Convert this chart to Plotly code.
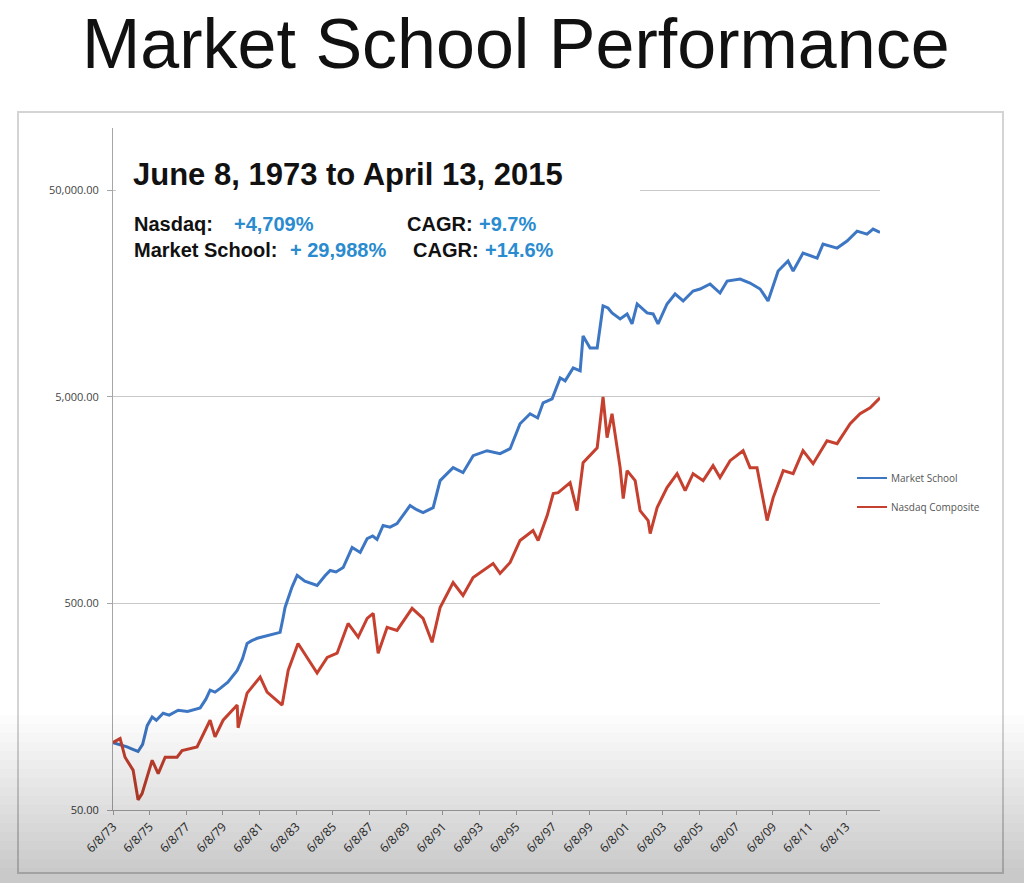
import plotly.graph_objects as go
import pandas as pd
import math

# ---------------- data ----------------
ms_years = [1973.44, 1973.80, 1974.20, 1974.55, 1974.80, 1975.05, 1975.30, 1975.57, 1975.80, 1976.17,
            1976.50, 1976.99, 1977.50, 1978.19, 1978.50, 1978.73, 1979.00, 1979.28, 1979.70, 1980.21,
            1980.50, 1980.75, 1981.00, 1981.30, 1981.90, 1982.55, 1982.70, 1982.82, 1983.20, 1983.48,
            1983.90, 1984.57, 1985.00, 1985.28, 1985.60, 1985.99, 1986.48, 1986.92, 1987.30, 1987.60,
            1987.84, 1988.17, 1988.55, 1988.93, 1989.64, 1990.00, 1990.35, 1990.90, 1991.28, 1991.99,
            1992.53, 1993.08, 1993.84, 1994.55, 1995.10, 1995.64, 1996.19, 1996.60, 1996.90, 1997.39,
            1997.83, 1998.10, 1998.54, 1998.92, 1999.08, 1999.46, 1999.85, 2000.17, 2000.44, 2000.66,
            2001.10, 2001.48, 2001.75, 2002.03, 2002.57, 2002.90, 2003.17, 2003.66, 2004.10, 2004.54,
            2005.08, 2005.46, 2006.01, 2006.55, 2006.94, 2007.65, 2008.19, 2008.74, 2009.17, 2009.72,
            2010.26, 2010.54, 2011.08, 2011.85, 2012.17, 2012.94, 2013.48, 2014.03, 2014.57, 2014.90,
            2015.28]
ms_values = [106, 104, 101, 98, 96, 104, 128, 141, 136, 147,
             144, 152, 150, 156, 172, 190, 186, 194, 208, 237,
             270, 320, 330, 339, 350, 362, 420, 478, 600, 683,
             640, 611, 680, 722, 710, 746, 932, 882, 1030, 1060,
             1020, 1191, 1170, 1217, 1487, 1420, 1376, 1454, 1964, 2270,
             2147, 2594, 2742, 2652, 2804, 3702, 4139, 3950, 4677, 4890,
             6176, 5974, 6904, 6678, 9855, 8623, 8623, 13760, 13460, 12730,
             11910, 12590, 11260, 14070, 12730, 12590, 11260, 14070, 15730, 14550,
             16260, 16620, 17570, 15900, 18170, 18580, 17770, 16620, 14550, 20310,
             22700, 20310, 24810, 23470, 27430, 26230, 28350, 31690, 30650, 32400,
             31200]

nq_years = [1973.44, 1973.82, 1974.09, 1974.53, 1974.80, 1975.02, 1975.57, 1975.90, 1976.28, 1976.93,
            1977.20, 1978.02, 1978.73, 1979.00, 1979.44, 1980.21, 1980.26, 1980.75, 1981.46, 1981.84,
            1982.66, 1982.99, 1983.53, 1984.02, 1984.57, 1985.12, 1985.66, 1986.26, 1986.81, 1987.30,
            1987.63, 1987.90, 1988.39, 1988.93, 1989.75, 1990.35, 1990.84, 1991.28, 1991.99, 1992.53,
            1993.08, 1994.17, 1994.55, 1995.10, 1995.64, 1996.35, 1996.63, 1997.12, 1997.45, 1997.72,
            1998.37, 1998.75, 1999.08, 1999.85, 2000.17, 2000.39, 2000.66, 2001.10, 2001.27, 2001.48,
            2001.92, 2002.19, 2002.63, 2002.74, 2003.12, 2003.66, 2004.21, 2004.65, 2005.08, 2005.63,
            2006.17, 2006.55, 2007.10, 2007.81, 2008.19, 2008.57, 2008.90, 2009.12, 2009.45, 2010.00,
            2010.54, 2011.08, 2011.63, 2012.39, 2012.94, 2013.65, 2014.19, 2014.74, 2015.28]
nq_values = [106, 111, 90, 78, 56, 60, 87, 75, 90, 90,
             97, 101, 136, 113, 136, 161, 125, 184, 220, 186,
             161, 237, 320, 274, 230, 274, 287, 400, 343, 423,
             447, 287, 383, 370, 473, 423, 324, 478, 631, 546,
             668, 780, 698, 789, 1008, 1126, 1008, 1331, 1700, 1719,
             1920, 1407, 2399, 2835, 5000, 3169, 4139, 2270, 1608, 2195,
             1964, 1407, 1259, 1089, 1454, 1817, 2123, 1757, 2123, 1964,
             2320, 2031, 2454, 2742, 2270, 2270, 1573, 1259, 1626, 2195,
             2123, 2742, 2373, 3065, 2965, 3702, 4139, 4424, 4945]

tick_years = list(range(1973, 2014, 2))
tick_labels = [f"6/8/{y % 100:02d}" for y in tick_years]
y_ticks = [50, 500, 5000, 50000]
y_tick_labels = ["50.00", "500.00", "5,000.00", "50,000.00"]

series_names = ["Market School", "Nasdaq Composite"]
start_date, end_date = "1973-06-08", "2015-04-13"


def to_date(y):
    year = int(math.floor(y))
    frac = y - year
    return pd.Timestamp(year=year, month=1, day=1) + pd.Timedelta(days=frac * 365.25)


ms_dates = [to_date(y) for y in ms_years]
nq_dates = [to_date(y) for y in nq_years]
ms_dates[0] = nq_dates[0] = pd.Timestamp(start_date)
ms_dates[-1] = nq_dates[-1] = pd.Timestamp(end_date)
tick_dates = [pd.Timestamp(year=y, month=6, day=8) for y in tick_years]

BLUE = "#3d76c3"
RED = "#c6402f"

fig = go.Figure()
fig.add_trace(go.Scatter(x=ms_dates, y=ms_values, mode="lines", name=series_names[0],
                         line=dict(color=BLUE, width=3)))
fig.add_trace(go.Scatter(x=nq_dates, y=nq_values, mode="lines", name=series_names[1],
                         line=dict(color=RED, width=3)))

# pixel geometry of plot area
L, R, T, B = 113, 880, 128, 810
W, H = 1024, 883


def px(x):
    return (x - L) / (R - L)


def py(y):
    return (B - y) / (B - T)


shapes = []
# outer chart box
shapes.append(dict(type="rect", xref="paper", yref="paper", x0=px(18), x1=px(1003), y0=py(873), y1=py(112),
                   line=dict(color="#d4d4d4", width=2), fillcolor="rgba(0,0,0,0)", layer="below"))
# white box behind the text block (hides gridline)
shapes.append(dict(type="rect", xref="paper", yref="paper", x0=px(116), x1=px(640), y0=py(268), y1=py(145),
                   line=dict(width=0), fillcolor="white", layer="above"))
# manual legend lines
shapes.append(dict(type="line", xref="paper", yref="paper", x0=px(857), x1=px(887), y0=py(478), y1=py(478),
                   line=dict(color=BLUE, width=2)))
shapes.append(dict(type="line", xref="paper", yref="paper", x0=px(857), x1=px(887), y0=py(507), y1=py(507),
                   line=dict(color=RED, width=2)))
# bottom shading (video frame gradient)
for i in range(18):
    y0 = 715 + i * 9
    shapes.append(dict(type="rect", xref="paper", yref="paper", x0=px(0), x1=px(W), y0=py(H), y1=py(y0),
                       line=dict(width=0), fillcolor="rgba(0,0,0,0.013)", layer="above"))

annotations = []
annotations.append(dict(text="Market School Performance", xref="paper", yref="paper", x=px(516), y=py(44),
                        xanchor="center", yanchor="middle", showarrow=False,
                        font=dict(family="Liberation Sans, Arial", size=70, color="#111111")))
annotations.append(dict(text="<b>June 8, 1973 to April 13, 2015</b>", xref="paper", yref="paper",
                        x=px(131), y=py(174), xanchor="left", yanchor="middle", showarrow=False,
                        font=dict(family="Liberation Sans, Arial", size=31, color="#111111")))

TXT = dict(family="Liberation Sans, Arial", size=20)
NUM_COLOR = "#2a8bcf"
info = [
    ("<b>Nasdaq:</b>", 132, 224, "#111111"),
    ("<b>+4,709%</b>", 232, 224, NUM_COLOR),
    ("<b>CAGR:</b>", 405, 224, "#111111"),
    ("<b>+9.7%</b>", 477, 224, NUM_COLOR),
    ("<b>Market School:</b>", 132, 250, "#111111"),
    ("<b>+ 29,988%</b>", 288, 250, NUM_COLOR),
    ("<b>CAGR:</b>", 411, 250, "#111111"),
    ("<b>+14.6%</b>", 483, 250, NUM_COLOR),
]
for t, x, y, c in info:
    annotations.append(dict(text=t, xref="paper", yref="paper", x=px(x), y=py(y), xanchor="left",
                            yanchor="middle", showarrow=False, font=dict(color=c, **TXT)))

for name, y in zip(series_names, [478, 507]):
    annotations.append(dict(text=name, xref="paper", yref="paper", x=px(889), y=py(y), xanchor="left",
                            yanchor="middle", showarrow=False,
                            font=dict(family="Open Sans, Liberation Sans", size=10, color="#555555")))

fig.update_layout(
    width=W, height=H,
    margin=dict(l=L, r=W - R, t=T, b=H - B),
    paper_bgcolor="white", plot_bgcolor="white",
    showlegend=False,
    shapes=shapes, annotations=annotations,
    xaxis=dict(type="date", range=[start_date, end_date], tickmode="array",
               tickvals=tick_dates, ticktext=tick_labels, tickangle=-45,
               showgrid=False, showline=True, linecolor="#a6a6a6", linewidth=1,
               ticks="outside", ticklen=4, tickcolor="#a6a6a6",
               tickfont=dict(family="Open Sans, Liberation Sans", size=12, color="#333333"),
               zeroline=False, fixedrange=True),
    yaxis=dict(type="log", range=[math.log10(50), 5], tickmode="array",
               tickvals=y_ticks, ticktext=y_tick_labels,
               showgrid=True, gridcolor="#c8c8c8", gridwidth=1,
               showline=True, linecolor="#a6a6a6", linewidth=1,
               ticks="outside", ticklen=5, tickcolor="#a6a6a6", ticklabelstandoff=6,
               tickfont=dict(family="Open Sans, Liberation Sans", size=11, color="#444444"),
               zeroline=False, fixedrange=True),
)

fig.write_html("out.html")
